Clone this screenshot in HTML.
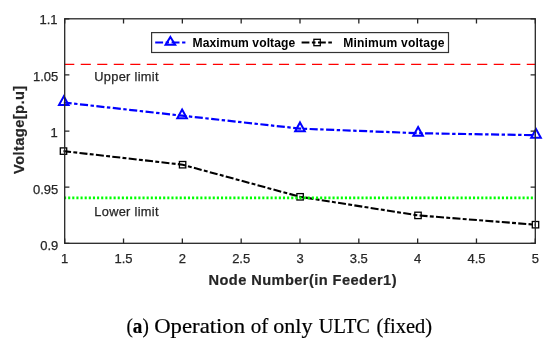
<!DOCTYPE html><html><head><meta charset="utf-8"><style>html,body{margin:0;padding:0;background:#fff;width:550px;height:347px;overflow:hidden}svg{display:block}</style></head><body>
<svg width="550" height="347" viewBox="0 0 550 347">
<rect width="550" height="347" fill="#fff"/>
<polyline points="63.80,102.5 182.10,115.7 300.00,128.6 418.10,133.2 536.00,135.2" fill="none" stroke="#0000ff" stroke-width="2.2" stroke-dasharray="8.1 2.5 3.4 2.5" stroke-dashoffset="0.23"/>
<polyline points="63.50,151.1 182.60,164.7 300.10,196.8 418.00,215.4 535.50,224.7" fill="none" stroke="#000" stroke-width="2.1" stroke-dasharray="8.0 2.3 3.9 2.3" stroke-dashoffset="0.4"/>
<path d="M63.80,96.30 L68.60,105.10 L59.00,105.10 Z" fill="none" stroke="#0000ff" stroke-width="2"/>
<path d="M182.10,109.50 L186.90,118.30 L177.30,118.30 Z" fill="none" stroke="#0000ff" stroke-width="2"/>
<path d="M300.00,122.40 L304.80,131.20 L295.20,131.20 Z" fill="none" stroke="#0000ff" stroke-width="2"/>
<path d="M418.10,127.00 L422.90,135.80 L413.30,135.80 Z" fill="none" stroke="#0000ff" stroke-width="2"/>
<path d="M536.00,129.00 L540.80,137.80 L531.20,137.80 Z" fill="none" stroke="#0000ff" stroke-width="2"/>
<rect x="60.30" y="147.90" width="6.4" height="6.4" fill="none" stroke="#000" stroke-width="1.3"/>
<rect x="179.40" y="161.50" width="6.4" height="6.4" fill="none" stroke="#000" stroke-width="1.3"/>
<rect x="296.90" y="193.60" width="6.4" height="6.4" fill="none" stroke="#000" stroke-width="1.3"/>
<rect x="414.80" y="212.20" width="6.4" height="6.4" fill="none" stroke="#000" stroke-width="1.3"/>
<rect x="532.30" y="221.50" width="6.4" height="6.4" fill="none" stroke="#000" stroke-width="1.3"/>
<line x1="64.2" y1="64.4" x2="535.3" y2="64.4" stroke="#ff0000" stroke-width="1.4" stroke-dasharray="10.1 6.42"/>
<line x1="64.0" y1="197.9" x2="535.3" y2="197.9" stroke="#00ff00" stroke-width="2.8" stroke-dasharray="2.1 2.031"/>
<rect x="64.7" y="18.8" width="470.60" height="224.50" fill="none" stroke="#262626" stroke-width="1.3"/>
<path d="M64.70,243.3v-4.7M64.70,18.8v4.7M123.53,243.3v-4.7M123.53,18.8v4.7M182.35,243.3v-4.7M182.35,18.8v4.7M241.18,243.3v-4.7M241.18,18.8v4.7M300.00,243.3v-4.7M300.00,18.8v4.7M358.82,243.3v-4.7M358.82,18.8v4.7M417.65,243.3v-4.7M417.65,18.8v4.7M476.47,243.3v-4.7M476.47,18.8v4.7M535.30,243.3v-4.7M535.30,18.8v4.7M64.7,243.30h4.7M535.3,243.30h-4.7M64.7,187.18h4.7M535.3,187.18h-4.7M64.7,131.05h4.7M535.3,131.05h-4.7M64.7,74.93h4.7M535.3,74.93h-4.7M64.7,18.80h4.7M535.3,18.80h-4.7" stroke="#262626" stroke-width="1.3" fill="none"/>
<g style="font-family:'Liberation Sans',Arial,Helvetica,sans-serif;font-size:13px" fill="#262626" stroke="#262626" stroke-width="0.25">
<text x="58.3" y="249.8" text-anchor="end">0.9</text>
<text x="58.3" y="193.9" text-anchor="end">0.95</text>
<text x="57.7" y="137.1" text-anchor="end">1</text>
<text x="58.3" y="81.0" text-anchor="end">1.05</text>
<text x="57.6" y="24.2" text-anchor="end">1.1</text>
<text x="64.70" y="263.4" text-anchor="middle">1</text>
<text x="123.53" y="263.4" text-anchor="middle">1.5</text>
<text x="182.35" y="263.4" text-anchor="middle">2</text>
<text x="241.18" y="263.4" text-anchor="middle">2.5</text>
<text x="300.00" y="263.4" text-anchor="middle">3</text>
<text x="358.82" y="263.4" text-anchor="middle">3.5</text>
<text x="417.65" y="263.4" text-anchor="middle">4</text>
<text x="476.47" y="263.4" text-anchor="middle">4.5</text>
<text x="535.30" y="263.4" text-anchor="middle">5</text>
</g>
<g style="font-family:'Liberation Sans',Arial,Helvetica,sans-serif;font-size:12.8px;letter-spacing:0.3px" fill="#262626" stroke="#262626" stroke-width="0.25"><text x="94.3" y="80.8">Upper limit</text><text x="94.3" y="215.9">Lower limit</text></g>
<text x="302.7" y="285" text-anchor="middle" style="font-family:'Liberation Sans',Arial,Helvetica,sans-serif;font-size:14.6px;font-weight:bold;letter-spacing:0.44px" fill="#262626" stroke="#262626" stroke-width="0.2">Node Number(in Feeder1)</text>
<text transform="translate(23.6,129.7) rotate(-90)" text-anchor="middle" style="font-family:'Liberation Sans',Arial,Helvetica,sans-serif;font-size:14.6px;font-weight:bold;letter-spacing:0.44px" fill="#262626" stroke="#262626" stroke-width="0.2">Voltage[p.u]</text>
<rect x="151.6" y="32.6" width="296.9" height="19.9" fill="#fff" stroke="#333" stroke-width="1.2"/>
<line x1="155.2" y1="42.5" x2="185.7" y2="42.5" stroke="#0000ff" stroke-width="2" stroke-dasharray="7.9 2.6 3.3 2.6"/>
<path d="M170.40,37.00 L175.20,44.70 L165.60,44.70 Z" fill="none" stroke="#0000ff" stroke-width="2"/>
<line x1="301.6" y1="42.5" x2="332" y2="42.5" stroke="#000" stroke-width="1.8" stroke-dasharray="7.8 2.5 3.6 2.5"/>
<rect x="313.90" y="39.30" width="6.4" height="6.4" fill="none" stroke="#000" stroke-width="1.3"/>
<g style="font-family:'Liberation Sans',Arial,Helvetica,sans-serif;font-size:12.1px;font-weight:bold;letter-spacing:0.08px" fill="#000"><text x="192.6" y="47">Maximum voltage</text><text x="343.2" y="47" letter-spacing="0.18">Minimum voltage</text></g>
<g style="font-family:'Liberation Serif','Times New Roman',serif;font-size:20.7px" fill="#000" stroke="#000" stroke-width="0.2"><text x="126.48" y="333.0" textLength="22.26" lengthAdjust="spacingAndGlyphs">(<tspan font-weight="bold">a</tspan>)</text><text x="154.20" y="333.0" textLength="90.91" lengthAdjust="spacingAndGlyphs">Operation</text><text x="250.68" y="333.0" textLength="17.56" lengthAdjust="spacingAndGlyphs">of</text><text x="273.23" y="333.0" textLength="39.30" lengthAdjust="spacingAndGlyphs">only</text><text x="318.72" y="333.0" textLength="51.19" lengthAdjust="spacingAndGlyphs">ULTC</text><text x="376.51" y="333.0" textLength="55.67" lengthAdjust="spacingAndGlyphs">(fixed)</text></g>
</svg></body></html>
